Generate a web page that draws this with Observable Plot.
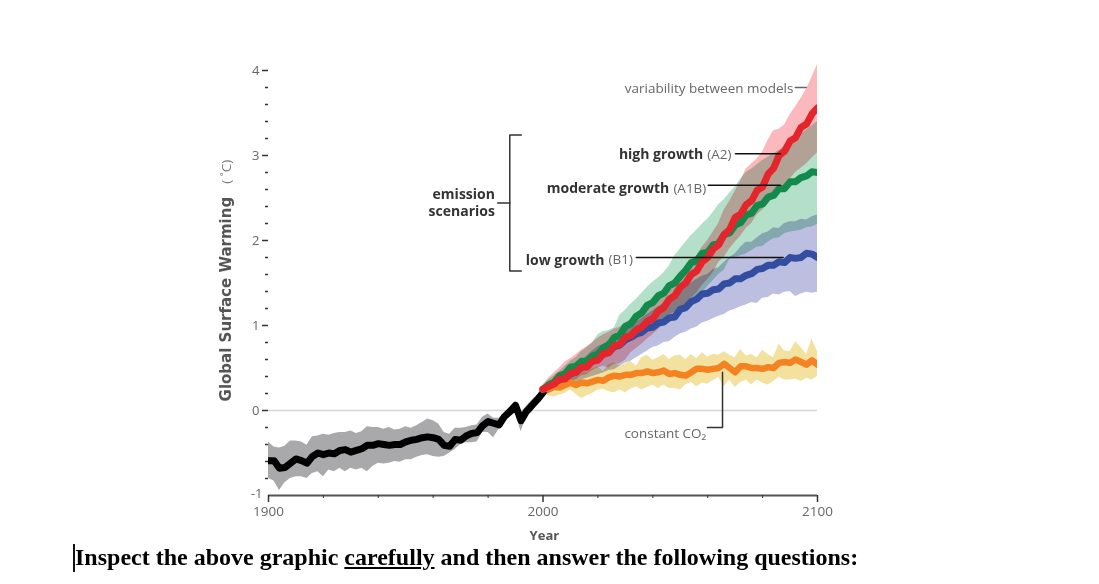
<!DOCTYPE html>
<html>
<head>
<meta charset="utf-8">
<script src="https://cdn.jsdelivr.net/npm/d3@7"></script>
<script src="https://cdn.jsdelivr.net/npm/@observablehq/plot@0.6"></script>
<style>
body { margin: 0; background: #fff; }
#caption { position: relative; margin-left: 73px; height: 28px; line-height: 29px; border-left: 2px solid #111; font: bold 24px "Liberation Serif", serif; color: #000; white-space: nowrap; width: 800px; }
</style>
</head>
<body>
<div id="graph"></div>
<div id="caption">Inspect the above graphic <u>carefully</u> and then answer the following questions:</div>
<script>
const histYears = [1900,1902,1904,1906,1908,1910,1912,1914,1916,1918,1920,1922,1924,1926,1928,1930,1932,1934,1936,1938,1940,1942,1944,1946,1948,1950,1952,1954,1956,1958,1960,1962,1964,1966,1968,1970,1972,1974,1976,1978,1980,1982,1984,1986,1988,1990,1992,1994,1996,1998,2000];
const histMean = [-.59,-.59,-.68,-.67,-.62,-.57,-.59,-.62,-.54,-.50,-.52,-.50,-.51,-.47,-.46,-.49,-.47,-.45,-.41,-.41,-.39,-.40,-.41,-.40,-.40,-.37,-.35,-.34,-.32,-.31,-.32,-.34,-.41,-.42,-.34,-.35,-.30,-.27,-.26,-.18,-.13,-.15,-.17,-.07,-.01,.06,-.12,-.01,.06,.13,.21];
const histHigh = [-.37,-.43,-.44,-.42,-.36,-.36,-.37,-.41,-.31,-.30,-.28,-.29,-.27,-.26,-.26,-.24,-.27,-.25,-.19,-.20,-.20,-.22,-.20,-.23,-.22,-.19,-.21,-.18,-.14,-.10,-.12,-.16,-.26,-.28,-.21,-.21,-.20,-.18,-.17,-.08,-.04,-.09,-.09,-.03,.04,.11,-.03,.05,.12,.18,.24];
const histLow = [-.80,-.83,-.94,-.85,-.80,-.78,-.78,-.80,-.74,-.72,-.78,-.70,-.72,-.68,-.72,-.68,-.70,-.68,-.72,-.66,-.62,-.63,-.62,-.60,-.61,-.58,-.58,-.55,-.53,-.52,-.54,-.55,-.54,-.50,-.46,-.40,-.38,-.38,-.37,-.26,-.26,-.32,-.22,-.13,-.08,-.03,-.25,-.07,-.02,.07,.17];

const years = [2000,2002,2004,2006,2008,2010,2012,2014,2016,2018,2020,2022,2024,2026,2028,2030,2032,2034,2036,2038,2040,2042,2044,2046,2048,2050,2052,2054,2056,2058,2060,2062,2064,2066,2068,2070,2072,2074,2076,2078,2080,2082,2084,2086,2088,2090,2092,2094,2096,2098,2100];
const a2Mean = [.25,.28,.31,.37,.37,.44,.45,.51,.51,.58,.59,.67,.68,.76,.78,.86,.88,.95,.98,1.05,1.08,1.17,1.21,1.31,1.35,1.45,1.50,1.60,1.64,1.75,1.80,1.90,1.95,2.07,2.13,2.27,2.31,2.42,2.47,2.59,2.63,2.78,2.85,3.0,3.05,3.17,3.21,3.33,3.37,3.49,3.56];
const a2High = [.30,.38,.44,.50,.57,.61,.66,.71,.75,.80,.85,.89,.92,.96,.98,1.03,1.07,1.10,1.16,1.20,1.26,1.30,1.36,1.41,1.47,1.52,1.60,1.70,1.82,1.92,2.00,2.10,2.20,2.36,2.46,2.58,2.70,2.84,2.90,2.96,3.04,3.18,3.29,3.31,3.36,3.48,3.57,3.67,3.78,3.92,4.07];
const a2Low = [.18,.19,.23,.29,.31,.35,.36,.41,.42,.47,.50,.52,.50,.54,.55,.59,.68,.73,.78,.84,.89,.95,1.01,1.06,1.12,1.18,1.22,1.32,1.38,1.47,1.54,1.62,1.74,1.80,1.90,1.98,2.05,2.14,2.20,2.30,2.36,2.43,2.50,2.57,2.64,2.72,2.80,2.85,2.90,2.97,3.03];
const a1bMean = [.25,.30,.33,.41,.43,.51,.52,.58,.58,.64,.66,.74,.77,.86,.89,.99,1.02,1.11,1.15,1.24,1.27,1.35,1.38,1.47,1.50,1.58,1.65,1.74,1.76,1.85,1.86,1.95,1.97,2.07,2.09,2.18,2.21,2.30,2.32,2.41,2.43,2.51,2.53,2.61,2.61,2.69,2.69,2.74,2.76,2.81,2.80];
const a1bHigh = [.28,.36,.41,.46,.52,.58,.62,.69,.74,.79,.89,.93,.94,.97,1.12,1.18,1.25,1.31,1.38,1.45,1.51,1.56,1.62,1.70,1.82,1.90,1.98,2.06,2.12,2.19,2.25,2.33,2.42,2.48,2.56,2.63,2.72,2.80,2.84,2.89,2.94,2.98,3.02,3.06,3.11,3.15,3.20,3.25,3.30,3.35,3.40];
const a1bLow = [.22,.24,.28,.32,.36,.38,.42,.46,.50,.52,.55,.60,.63,.70,.73,.78,.82,.86,.91,.95,1.0,1.04,1.08,1.12,1.16,1.2,1.24,1.30,1.35,1.38,1.46,1.53,1.60,1.65,1.78,1.80,1.82,1.84,1.88,1.92,1.93,1.98,2.02,2.03,2.08,2.10,2.11,2.12,2.15,2.16,2.19];
const b1Mean = [.25,.28,.30,.36,.37,.43,.45,.51,.53,.59,.61,.67,.69,.75,.77,.83,.86,.90,.92,.97,.98,1.03,1.04,1.09,1.10,1.19,1.21,1.28,1.31,1.37,1.38,1.42,1.43,1.49,1.50,1.55,1.55,1.59,1.61,1.66,1.67,1.71,1.71,1.75,1.74,1.80,1.79,1.80,1.85,1.84,1.80];
const b1High = [.28,.32,.36,.42,.46,.50,.54,.58,.64,.70,.75,.78,.82,.86,.92,.96,1.0,1.04,1.08,1.13,1.17,1.22,1.26,1.30,1.34,1.40,1.45,1.50,1.54,1.58,1.60,1.66,1.68,1.74,1.80,1.84,1.92,1.98,1.98,2.03,2.08,2.10,2.15,2.14,2.20,2.22,2.22,2.25,2.24,2.28,2.30];
const b1Low = [.20,.20,.23,.28,.30,.32,.32,.36,.38,.40,.42,.44,.47,.48,.52,.56,.58,.62,.66,.70,.74,.76,.80,.81,.86,.90,.92,.96,.98,1.03,1.05,1.08,1.11,1.13,1.17,1.19,1.22,1.24,1.27,1.26,1.32,1.33,1.37,1.36,1.39,1.40,1.34,1.37,1.39,1.38,1.39];
const co2Mean = [.25,.26,.28,.27,.30,.33,.30,.33,.32,.34,.36,.35,.39,.41,.40,.42,.42,.44,.44,.46,.44,.45,.47,.43,.44,.42,.41,.45,.49,.49,.48,.49,.50,.55,.50,.45,.52,.52,.50,.50,.49,.51,.50,.56,.57,.56,.60,.57,.54,.59,.54];
const co2High = [.28,.31,.36,.38,.41,.44,.43,.47,.44,.49,.51,.46,.54,.56,.52,.55,.58,.52,.62,.65,.59,.62,.66,.60,.64,.65,.60,.66,.61,.68,.63,.66,.65,.69,.65,.62,.72,.64,.66,.62,.71,.66,.62,.78,.70,.69,.81,.74,.66,.84,.69];
const co2Low = [.20,.17,.16,.18,.20,.24,.19,.14,.17,.20,.24,.25,.22,.21,.24,.21,.25,.28,.24,.27,.30,.26,.30,.26,.26,.24,.30,.33,.28,.32,.31,.35,.39,.28,.36,.27,.33,.36,.30,.36,.32,.30,.34,.39,.36,.36,.37,.34,.38,.36,.40];

const yMajor = [0, 1, 2, 3, 4];
const yMinor = [-.8,-.6,-.4,-.2,.2,.4,.6,.8,1.2,1.4,1.6,1.8,2.2,2.4,2.6,2.8,3.2,3.4,3.6,3.8];
const xMajor = [1900, 2000, 2100];
const xMinor = [1920,1940,1960,1980,2020,2040,2060,2080];

const sans = "'Open Sans', sans-serif";
const ink = "#333";
const grey = "#666";

// no clip here: a clipped group would isolate the multiply blend
function band(xs, low, high, fill) {
	return Plot.areaY(xs, {x: xs, y1: low, y2: high, fill: fill, mixBlendMode: "multiply"});
}

function meanLine(xs, values, color, w) {
	return Plot.lineY(xs, {x: xs, y: values, stroke: color, strokeWidth: w, strokeLinejoin: "round", clip: true});
}

function label(text, x, y, o) {
	return Plot.text([text], Object.assign({x: () => x, y: () => y, text: d => d, fontSize: 13.5, fill: grey}, o));
}

function path(xs, ys, color) {
	return Plot.line(xs.map((x, i) => [x, ys[i]]), {stroke: color, strokeWidth: 1.5});
}

const chart = Plot.plot({
	width: 1099,
	height: 544,
	marginLeft: 268,
	marginRight: 282,
	marginTop: 61.5,
	marginBottom: 49,
	style: {fontFamily: sans, background: "#fff", overflow: "visible"},
	x: {domain: [1900, 2100], axis: null},
	y: {domain: [-1, 4.1], axis: null},
	marks: [
		Plot.ruleY([0], {stroke: "#d6d6d6", strokeWidth: 1.5}),
		band(histYears, histLow, histHigh, "#a9a9ab"),
		band(years, co2Low, co2High, "#f2e19f"),
		band(years, b1Low, b1High, "#bcbfdf"),
		band(years, a1bLow, a1bHigh, "#b4e0ca"),
		band(years, a2Low, a2High, "#fcb9bd"),
		path([2065.4, 2065.4, 2059.9], [.45, -.2, -.2], ink),
		meanLine(histYears, histMean, "#000", 7),
		meanLine(years, b1Mean, "#334ea0", 7),
		meanLine(years, co2Mean, "#f58220", 6.5),
		meanLine(years, a1bMean, "#128a4b", 7),
		meanLine(years, a2Mean, "#e4262c", 7),

		// axes
		Plot.axisY(yMajor, {tickSize: 6, tickPadding: 3, fontSize: 13, color: grey, stroke: ink, strokeWidth: 1.5, tickFormat: d => String(d), label: null}),
		Plot.axisY(yMinor, {tickSize: 3, tickFormat: () => "", stroke: ink, strokeWidth: 1.5, label: null}),
		Plot.axisY([-1], {tickSize: 0, tickPadding: 6, fontSize: 13, dy: -2, color: grey, tickFormat: () => "-1", label: null}),
		Plot.ruleY([-1], {stroke: "#555", strokeWidth: 2}),
		Plot.axisX(xMajor, {tickSize: 7, tickPadding: 4, fontSize: 13.5, color: grey, stroke: ink, strokeWidth: 1.5, tickFormat: d => String(d), label: null}),
		Plot.axisX(xMinor, {tickSize: 3, tickFormat: () => "", stroke: ink, strokeWidth: 1, label: null}),
		label("Year", 2000.5, -1.47, {fontWeight: "bold", fontSize: 13, fill: "#555"}),
		label("Global Surface Warming", 1884.7, 1.31, {rotate: -90, fontFamily: "'DejaVu Sans', sans-serif", fontWeight: "bold", fontSize: 15, fill: "#555"}),
		label("( ˚C)", 1884.7, 2.81, {rotate: -90, fontSize: 13.5, fill: "#777"}),

		// annotations
		label("variability between models", 2091.2, 3.79, {textAnchor: "end"}),
		path([2091.9, 2095.9], [3.8, 3.8], grey),
		label("high growth", 2058.4, 3.01, {textAnchor: "end", fontWeight: "bold", fontSize: 14, fill: ink}),
		label("(A2)", 2059.8, 3.01, {textAnchor: "start"}),
		path([2070.1, 2086.5], [3.02, 3.02], "#111"),
		label("moderate growth", 2046, 2.61, {textAnchor: "end", fontWeight: "bold", fontSize: 14, fill: ink}),
		label("(A1B)", 2047.5, 2.61, {textAnchor: "start"}),
		path([2060.2, 2086.5], [2.65, 2.65], "#111"),
		label("low growth", 2022.4, 1.77, {textAnchor: "end", fontWeight: "bold", fontSize: 14, fill: ink}),
		label("(B1)", 2023.9, 1.77, {textAnchor: "start"}),
		path([2034, 2087.5], [1.8, 1.8], "#111"),
		label("emission", 1982.5, 2.54, {textAnchor: "end", fontWeight: "bold", fontSize: 14, fill: ink}),
		label("scenarios", 1982.5, 2.34, {textAnchor: "end", fontWeight: "bold", fontSize: 14, fill: ink}),
		path([1992.1, 1987.9, 1987.9, 1992.1], [3.24, 3.24, 1.64, 1.64], ink),
		path([1983.5, 1987.9], [2.44, 2.44], ink),
		label("constant CO₂", 2059.5, -.27, {textAnchor: "end"})
	]
});

d3.select("#graph").append(() => chart);
</script>
</body>
</html>
